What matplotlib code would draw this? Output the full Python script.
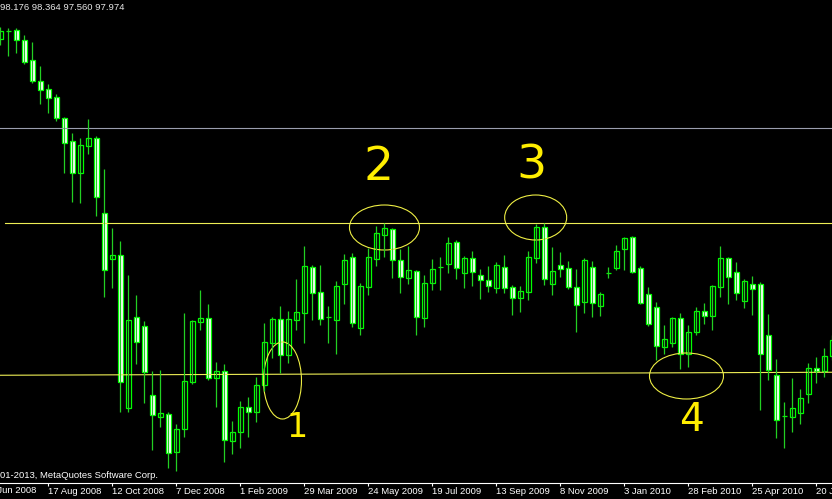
import numpy as np
import matplotlib.pyplot as plt
from matplotlib.patches import Ellipse

# weekly candles, one per week starting 6 Jul 2008 (index 0)
opens = [104.88, 105.52, 105.58, 104.78, 103.18, 101.52, 100.88, 100.24, 98.56, 96.70,
         94.18, 96.34, 96.94, 90.94, 87.30, 87.60, 75.38, 82.64, 81.92, 76.38,
         74.62, 74.90, 71.86, 73.66, 77.44, 82.26, 82.54, 77.74, 78.34, 72.74,
         73.42, 75.42, 75.02, 77.18, 80.58, 82.46, 79.60, 82.40, 82.98, 86.66,
         84.66, 82.66, 82.40, 85.26, 87.46, 81.78, 85.06, 87.30, 89.18, 89.66,
         87.20, 85.74, 86.32, 82.54, 85.34, 86.66, 86.86, 88.66, 86.14, 87.34,
         86.00, 85.60, 84.94, 86.66, 85.06, 84.14, 84.66, 87.38, 89.86, 85.26,
         86.78, 86.54, 85.02, 83.86, 86.66, 83.54, 86.18, 86.58, 88.10, 89.06,
         86.54, 84.46, 83.42, 80.26, 80.54, 82.54, 79.68, 81.46, 83.12, 82.74,
         85.06, 87.34, 86.22, 83.94, 85.26, 85.26, 81.20, 78.00, 74.72, 74.66,
         74.98, 76.46, 78.54, 78.32, 79.52]
highs = [105.84, 105.76, 105.76, 105.20, 104.64, 102.72, 101.28, 100.48, 98.66, 97.34,
         96.96, 98.48, 97.12, 94.48, 89.76, 88.72, 86.00, 84.40, 82.32, 78.32,
         78.40, 75.02, 74.06, 82.94, 82.40, 84.80, 83.68, 79.06, 78.86, 74.32,
         75.94, 76.22, 77.86, 82.14, 82.66, 83.54, 83.12, 85.68, 88.32, 86.80,
         86.80, 83.54, 85.52, 87.70, 87.74, 85.38, 88.14, 89.92, 90.14, 89.74,
         88.06, 88.32, 86.40, 86.00, 87.30, 87.46, 89.04, 88.80, 87.54, 87.92,
         86.48, 86.72, 87.02, 87.60, 85.20, 85.12, 87.94, 90.08, 90.14, 88.22,
         87.84, 87.12, 86.48, 87.34, 87.12, 84.62, 86.62, 88.40, 89.02, 89.12,
         86.72, 85.06, 83.82, 82.00, 82.66, 82.94, 82.00, 83.46, 83.74, 85.20,
         88.32, 87.46, 87.04, 85.68, 85.92, 85.42, 82.88, 79.26, 75.86, 77.74,
         76.88, 78.98, 79.42, 80.18, 81.20]
lows = [104.40, 103.52, 103.78, 102.86, 101.36, 99.70, 98.98, 98.34, 94.18, 91.86,
        91.78, 95.70, 90.74, 84.26, 84.98, 75.02, 75.04, 78.86, 75.74, 72.00,
        73.86, 70.58, 70.34, 73.06, 77.28, 81.60, 77.60, 75.42, 71.06, 71.66,
        72.14, 73.02, 74.22, 76.72, 79.34, 78.14, 78.94, 81.60, 80.54, 82.40,
        82.00, 80.58, 79.66, 83.68, 81.86, 81.20, 84.40, 86.72, 87.46, 85.74,
        84.54, 85.28, 81.20, 81.86, 84.80, 84.80, 86.18, 85.68, 84.94, 85.12,
        84.06, 84.64, 84.58, 84.54, 82.80, 83.06, 84.00, 86.94, 85.20, 84.40,
        85.86, 84.86, 81.46, 82.98, 82.66, 82.74, 85.78, 86.40, 86.40, 86.14,
        83.68, 81.94, 79.20, 79.66, 80.26, 78.48, 78.66, 81.20, 82.08, 81.60,
        84.26, 83.68, 84.00, 83.38, 82.82, 75.20, 77.60, 72.94, 72.18, 73.46,
        74.06, 75.74, 77.34, 77.86, 79.20]
closes = [105.52, 105.50, 104.78, 103.06, 101.52, 100.82, 100.18, 98.58, 96.58, 94.18,
          96.40, 96.96, 92.22, 86.38, 87.60, 77.42, 82.38, 80.66, 78.22, 74.78,
          74.94, 71.78, 73.66, 77.52, 82.32, 82.54, 77.74, 78.34, 72.80, 73.42,
          75.42, 75.02, 77.18, 80.62, 82.46, 79.60, 82.46, 83.04, 86.72, 84.54,
          82.46, 82.68, 85.10, 87.20, 82.18, 85.12, 87.46, 89.34, 89.74, 87.20,
          85.82, 86.40, 82.62, 85.34, 86.48, 86.68, 88.54, 86.58, 87.34, 86.26,
          85.60, 85.14, 86.80, 84.98, 84.14, 84.72, 87.42, 89.86, 85.66, 86.32,
          86.50, 85.06, 83.58, 87.20, 83.74, 84.46, 86.20, 87.92, 88.94, 86.26,
          83.78, 82.06, 80.32, 80.88, 82.54, 79.68, 81.46, 83.12, 82.74, 85.12,
          87.34, 85.86, 84.54, 85.52, 84.86, 79.68, 78.40, 74.40, 74.70, 75.34,
          76.14, 78.58, 78.34, 79.52, 80.80]

tick_pos = [6, 14, 22, 30, 38, 46, 54, 62, 70, 78, 86, 94, 102]
tick_labels = ["17 Aug 2008", "12 Oct 2008", "7 Dec 2008", "1 Feb 2009", "29 Mar 2009",
               "24 May 2009", "19 Jul 2009", "13 Sep 2009", "8 Nov 2009", "3 Jan 2010",
               "28 Feb 2010", "25 Apr 2010", "20 Jun 2010"]

# drawn objects
upper_level = 97.76
resist_level = 90.18
support_line = [(0, 77.98), (104, 78.22)]
circles = [(35.25, 77.56, 4.75, 6.16), (48.0, 89.80, 8.75, 3.6),
           (66.9, 90.60, 7.75, 3.6), (85.75, 77.92, 9.25, 3.68)]
marks = [("1", 37.1, 73.8, 24), ("2", 47.2, 94.6, 34), ("3", 66.4, 94.7, 34), ("4", 86.4, 74.4, 28)]

x = np.arange(len(opens))
o = np.array(opens)
c = np.array(closes)
fills = np.where(c < o, "white", "black")

fig = plt.figure(figsize=(8.32, 4.99), dpi=100, facecolor="black")
ax = fig.add_axes([0, 16 / 499, 1, 483 / 499])
ax.set_facecolor("black")

ax.axhline(upper_level, color="#9a9eae", lw=0.8)
ax.plot([0.6, 104], [resist_level, resist_level], color="#eeee55", lw=0.8)
ax.plot([p[0] for p in support_line], [p[1] for p in support_line], color="#eeee55", lw=0.8)

ax.vlines(x, lows, highs, color="#22d022", lw=0.9)
ax.bar(x, c - o, bottom=o, width=0.55, color=fills, edgecolor="#00ff00", linewidth=0.9)

for cx, cy, w, h in circles:
    ax.add_patch(Ellipse((cx, cy), w, h, fill=False, edgecolor="#eeee44", lw=0.8))
for txt, mx, my, size in marks:
    ax.text(mx, my, txt, color="#ffee00", fontsize=size, ha="center", va="center",
            family="DejaVu Sans")

ax.set_xlim(-0.06, 103.94)
ax.set_ylim(69.36, 108)
ax.set_yticks([])
ax.set_xticks(tick_pos)
ax.set_xticklabels(tick_labels, ha="left", color="white", fontsize=6.8, family="Liberation Sans")
ax.tick_params(axis="x", colors="white", length=2.2, width=0.8, pad=0.5)
for s in ["left", "right", "top"]:
    ax.spines[s].set_visible(False)
ax.spines["bottom"].set_color("white")
ax.spines["bottom"].set_linewidth(0.8)

fig.text(-16 / 832, 13 / 499, "22 Jun 2008", color="white", fontsize=6.8,
         family="Liberation Sans", ha="left", va="top")
fig.text(0, 1 - 3 / 499, "98.176 98.364 97.560 97.974", color="#e8e8e8", fontsize=6.8,
         family="Liberation Sans", ha="left", va="top")
fig.text(0, 21 / 499, "01-2013, MetaQuotes Software Corp.", color="white", fontsize=6.8,
         family="Liberation Sans", ha="left", va="baseline")

fig.savefig("out.png", dpi=100, facecolor="black")
